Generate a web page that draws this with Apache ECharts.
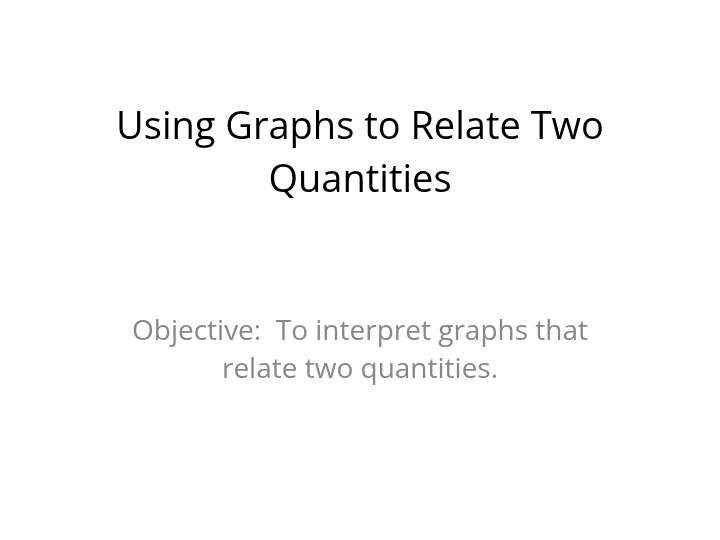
<!DOCTYPE html>
<html>
<head>
<meta charset="utf-8">
<script src="https://cdn.jsdelivr.net/npm/echarts@6/dist/echarts.min.js"></script>
<style>
html,body{margin:0;padding:0;background:#fff;}
#main{width:720px;height:540px;}
</style>
</head>
<body>
<div id="main"></div>
<script>
const titleLines = ["Using Graphs to Relate Two", "Quantities"];
const subtitleLines = ["Objective:  To interpret graphs that", "relate two quantities."];

const titleY = [128, 181];
const subY = [332, 370];

const chart = echarts.init(document.getElementById('main'));
const elements = [];
titleLines.forEach((t, i) => {
  elements.push({
    type: 'text', x: 360, y: titleY[i],
    style: { text: t, fill: '#000', font: '38px "Open Sans"', textAlign: 'center', textVerticalAlign: 'middle' }
  });
});
subtitleLines.forEach((t, i) => {
  elements.push({
    type: 'text', x: 360, y: subY[i],
    style: { text: t, fill: '#888', font: '28px "Open Sans"', textAlign: 'center', textVerticalAlign: 'middle' }
  });
});
chart.setOption({
  backgroundColor: '#fff',
  animation: false,
  graphic: { elements: elements }
});
</script>
</body>
</html>
